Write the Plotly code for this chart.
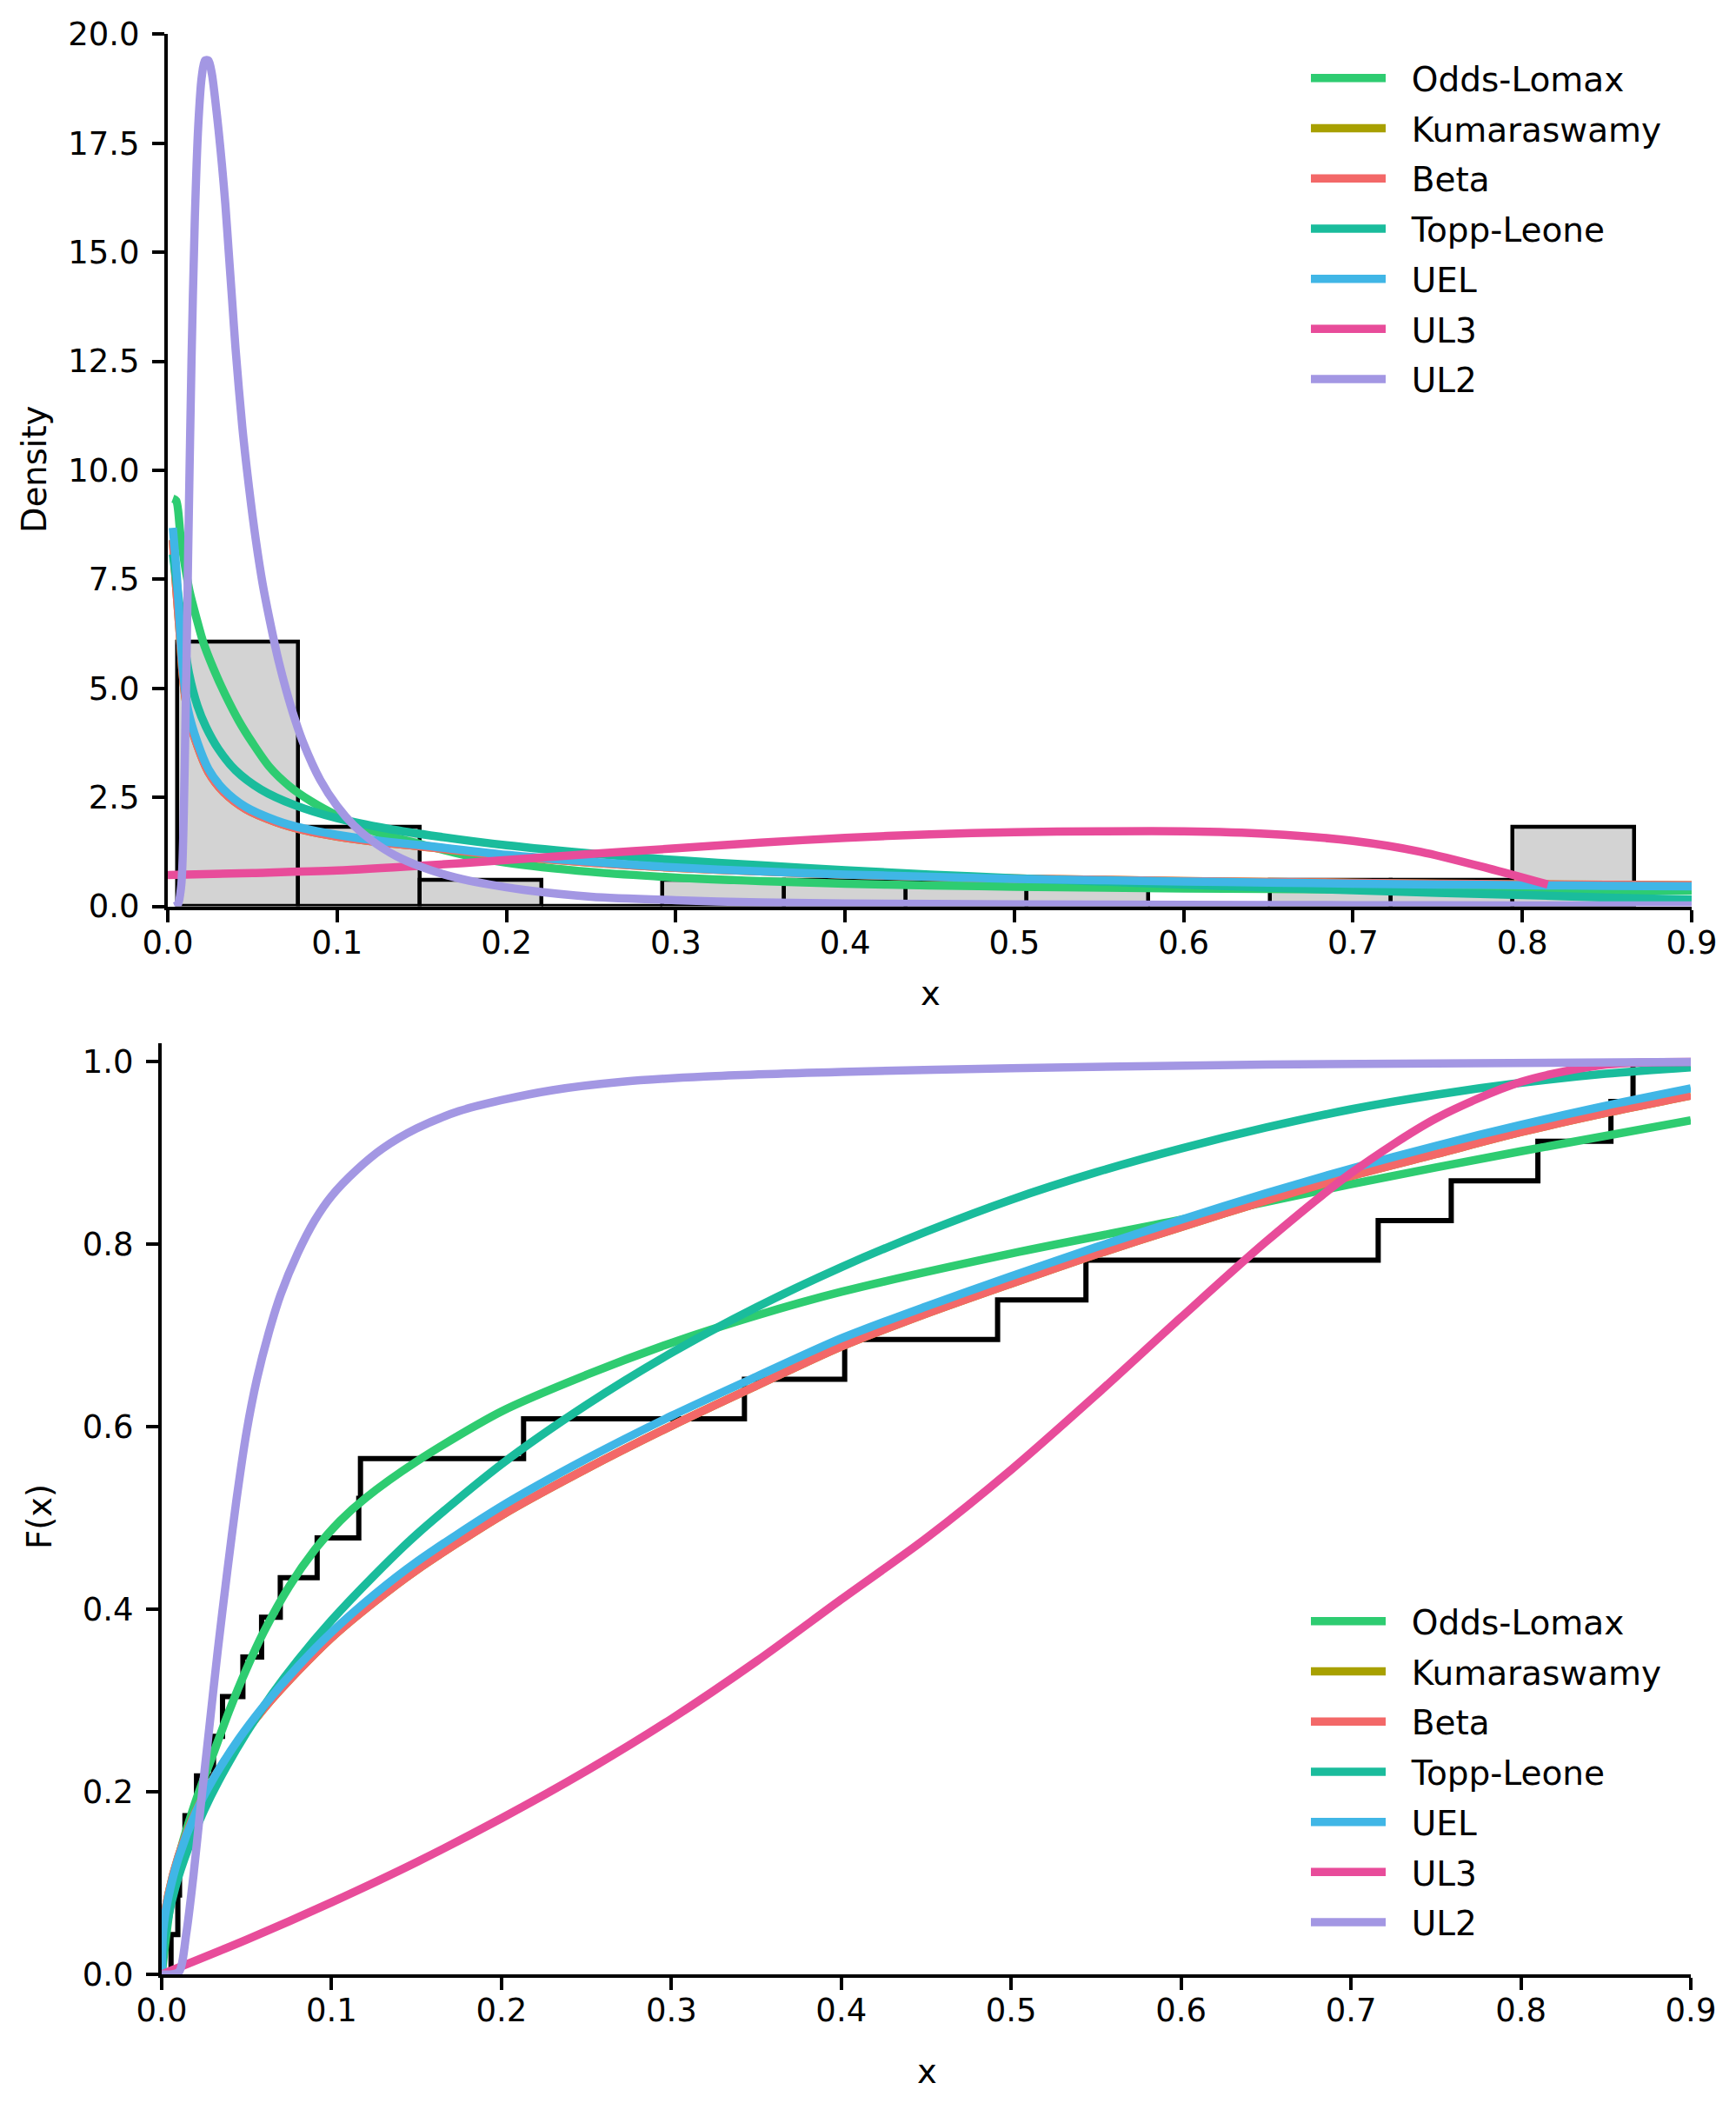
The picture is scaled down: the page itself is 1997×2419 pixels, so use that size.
import numpy as np
import plotly.graph_objects as go

# ---------------- data ----------------
names = ["Odds-Lomax", "Kumaraswamy", "Beta", "Topp-Leone", "UEL", "UL3", "UL2"]
colors = ["#2ecc71", "#a8a000", "#f36868", "#1abc9c", "#40b6e6", "#e84c9a", "#a397e3"]

obs = [0.0055, 0.0095, 0.0105, 0.0137, 0.0205, 0.0305, 0.0358, 0.0478, 0.0588, 0.0698,
       0.0915, 0.116, 0.117, 0.213, 0.343, 0.402, 0.492, 0.544, 0.716, 0.759,
       0.810, 0.853, 0.866]
n_bins = 12

# PDFs (top panel)
pdf_x_odds = [0.003, 0.005, 0.0075, 0.010, 0.013, 0.017, 0.021, 0.027, 0.034, 0.042, 0.05, 0.06,
              0.072, 0.085, 0.1, 0.115, 0.13, 0.15, 0.175, 0.2, 0.25, 0.3, 0.35, 0.4, 0.45,
              0.5, 0.6, 0.7, 0.8, 0.9]
pdf_odds = [9.35, 9.3, 8.5, 7.85, 7.2, 6.6, 6.05, 5.45, 4.85, 4.25, 3.75, 3.2,
            2.75, 2.4, 2.08, 1.82, 1.62, 1.42, 1.18, 1.0, 0.79, 0.66, 0.58, 0.52, 0.48,
            0.45, 0.41, 0.385, 0.37, 0.36]

pdf_x_beta = [0.003, 0.005, 0.0072, 0.009, 0.012, 0.0175, 0.024, 0.033, 0.046, 0.064, 0.081,
              0.1, 0.125, 0.15, 0.2, 0.25, 0.3, 0.35, 0.4, 0.45, 0.5, 0.55, 0.6, 0.65, 0.7,
              0.75, 0.8, 0.85, 0.9]
pdf_beta = [8.4, 7.3, 6.2, 5.25, 4.4, 3.68, 3.08, 2.62, 2.23, 1.93, 1.74,
            1.6, 1.47, 1.37, 1.16, 1.0, 0.88, 0.8, 0.73, 0.68, 0.64, 0.61, 0.58, 0.56, 0.54,
            0.52, 0.505, 0.495, 0.485]

pdf_x_kuma = pdf_x_beta
pdf_kuma = pdf_beta

pdf_x_tl = [0.003, 0.006, 0.009, 0.0125, 0.0175, 0.0225, 0.03, 0.04, 0.055, 0.075, 0.1, 0.13,
            0.16, 0.2, 0.25, 0.3, 0.35, 0.4, 0.45, 0.5, 0.55, 0.6, 0.65, 0.7, 0.75, 0.8,
            0.85, 0.9]
pdf_tl = [8.07, 7.2, 6.25, 5.35, 4.6, 4.12, 3.6, 3.12, 2.68, 2.32, 2.02, 1.78,
          1.6, 1.4, 1.21, 1.06, 0.94, 0.83, 0.73, 0.645, 0.57, 0.5, 0.43, 0.37, 0.31, 0.26,
          0.2, 0.155]

pdf_x_uel = [0.003, 0.0055, 0.0072, 0.009, 0.012, 0.0175, 0.024, 0.033, 0.046, 0.064, 0.081,
             0.1, 0.125, 0.15, 0.2, 0.25, 0.3, 0.35, 0.4, 0.45, 0.5, 0.55, 0.6, 0.65, 0.7,
             0.75, 0.8, 0.85, 0.9]
pdf_uel = [8.68, 7.5, 6.4, 5.4, 4.5, 3.76, 3.15, 2.68, 2.28, 1.97, 1.78,
           1.64, 1.5, 1.4, 1.18, 1.02, 0.89, 0.8, 0.73, 0.68, 0.63, 0.6, 0.57, 0.545, 0.52,
           0.5, 0.485, 0.47, 0.46]

pdf_x_ul3 = [0.0, 0.05, 0.1, 0.15, 0.2, 0.25, 0.3, 0.35, 0.4, 0.45, 0.5, 0.55, 0.6, 0.65,
             0.7, 0.74, 0.78, 0.815]
pdf_ul3 = [0.72, 0.765, 0.82, 0.93, 1.06, 1.2, 1.33, 1.46, 1.57, 1.65, 1.70, 1.72, 1.72, 1.66,
           1.5, 1.25, 0.87, 0.5]

pdf_x_ul2 = [0.004, 0.006, 0.008, 0.010, 0.012, 0.014, 0.016, 0.018, 0.020, 0.022, 0.024,
             0.026, 0.028, 0.030, 0.032, 0.034, 0.036, 0.038, 0.040, 0.044, 0.048, 0.052,
             0.056, 0.060, 0.065, 0.070, 0.075, 0.080, 0.090, 0.100, 0.110, 0.120, 0.135,
             0.150, 0.170, 0.190, 0.210, 0.250, 0.300, 0.350, 0.400, 0.500, 0.600, 0.700,
             0.800, 0.900]
pdf_ul2 = [0.0, 0.05, 0.5, 3.2, 8.0, 12.5, 15.8, 17.9, 19.0, 19.4, 19.4,
           19.1, 18.5, 17.8, 17.0, 16.1, 15.0, 13.9, 12.8, 11.0, 9.6, 8.4,
           7.4, 6.6, 5.7, 4.95, 4.3, 3.75, 2.9, 2.3, 1.85, 1.52, 1.15,
           0.9, 0.66, 0.5, 0.38, 0.22, 0.14, 0.09, 0.067, 0.046, 0.034, 0.027,
           0.022, 0.02]

# CDFs (bottom panel)
cdf_x_odds = [0, 0.005, 0.011, 0.021, 0.03, 0.04, 0.05, 0.06, 0.075, 0.09, 0.105, 0.12, 0.15,
              0.2, 0.25, 0.3, 0.35, 0.4, 0.5, 0.6, 0.7, 0.8, 0.9]
cdf_odds = [0, 0.075, 0.135, 0.195, 0.24, 0.29, 0.335, 0.375, 0.425, 0.465, 0.497, 0.522, 0.562,
            0.617, 0.657, 0.692, 0.722, 0.748, 0.79, 0.827, 0.866, 0.902, 0.936]

cdf_x_beta = [0, 0.001, 0.004, 0.01, 0.02, 0.03, 0.045, 0.06, 0.08, 0.1, 0.125, 0.15, 0.2,
              0.25, 0.3, 0.35, 0.4, 0.45, 0.5, 0.55, 0.6, 0.65, 0.7, 0.75, 0.8, 0.85, 0.9]
cdf_beta = [0, 0.053, 0.088, 0.13, 0.178, 0.213, 0.255, 0.291, 0.332, 0.369, 0.408, 0.443, 0.503,
            0.554, 0.601, 0.645, 0.688, 0.724, 0.757, 0.789, 0.819, 0.848, 0.875, 0.899, 0.923,
            0.944, 0.963]

cdf_x_kuma = cdf_x_beta
cdf_kuma = cdf_beta

cdf_x_tl = [0, 0.002, 0.008, 0.016, 0.025, 0.035, 0.05, 0.065, 0.08, 0.1, 0.125, 0.15, 0.2,
            0.25, 0.3, 0.35, 0.4, 0.45, 0.5, 0.55, 0.6, 0.65, 0.7, 0.75, 0.8, 0.85, 0.9]
cdf_tl = [0, 0.043, 0.095, 0.14, 0.18, 0.217, 0.265, 0.307, 0.344, 0.388, 0.437, 0.482, 0.559,
          0.624, 0.681, 0.731, 0.775, 0.814, 0.849, 0.879, 0.905, 0.928, 0.948, 0.964, 0.977,
          0.987, 0.994]

cdf_x_uel = cdf_x_beta
cdf_uel = [0, 0.05, 0.085, 0.128, 0.177, 0.213, 0.257, 0.294, 0.337, 0.375, 0.416, 0.452, 0.513,
           0.565, 0.612, 0.655, 0.697, 0.732, 0.765, 0.797, 0.827, 0.856, 0.883, 0.908, 0.931,
           0.952, 0.971]

cdf_x_ul3 = [0, 0.05, 0.1, 0.15, 0.2, 0.25, 0.3, 0.35, 0.4, 0.45, 0.5, 0.55, 0.6, 0.65, 0.7,
             0.75, 0.8, 0.85, 0.9]
cdf_ul3 = [0, 0.038, 0.079, 0.123, 0.171, 0.223, 0.28, 0.343, 0.411, 0.478, 0.553, 0.635, 0.72,
           0.803, 0.878, 0.938, 0.978, 0.997, 1.0]

cdf_x_ul2 = [0, 0.006, 0.0103, 0.0145, 0.0188, 0.023, 0.028, 0.033, 0.0385, 0.044, 0.05, 0.056,
             0.063, 0.07, 0.08, 0.09, 0.1, 0.115, 0.13, 0.15, 0.175, 0.2, 0.23, 0.27, 0.32,
             0.4, 0.5, 0.65, 0.9]
cdf_ul2 = [0, 0.0, 0.003, 0.045, 0.11, 0.185, 0.27, 0.355, 0.44, 0.52, 0.595, 0.652,
           0.703, 0.745, 0.79, 0.826, 0.853, 0.882, 0.905, 0.927, 0.946, 0.958, 0.969, 0.978,
           0.984, 0.989, 0.993, 0.997, 1.0]

pdf_series = [(pdf_x_odds, pdf_odds), (pdf_x_kuma, pdf_kuma), (pdf_x_beta, pdf_beta),
              (pdf_x_tl, pdf_tl), (pdf_x_uel, pdf_uel), (pdf_x_ul3, pdf_ul3), (pdf_x_ul2, pdf_ul2)]
cdf_series = [(cdf_x_odds, cdf_odds), (cdf_x_kuma, cdf_kuma), (cdf_x_beta, cdf_beta),
              (cdf_x_tl, cdf_tl), (cdf_x_uel, cdf_uel), (cdf_x_ul3, cdf_ul3), (cdf_x_ul2, cdf_ul2)]

# ---------------- figure ----------------
W, H = 1997, 2419
FONT = "DejaVu Sans"
FS = 37
FS_LAB = 38.5
FS_LEG = 39
LW = 9.5
PAD = "\u00a0\u00a0"

fig = go.Figure()

# histogram (density)
n = len(obs)
counts, edges = np.histogram(obs, bins=n_bins)
dens = counts / (n * np.diff(edges))
centers = (edges[:-1] + edges[1:]) / 2
fig.add_trace(go.Bar(x=centers, y=dens, width=np.diff(edges),
                     marker=dict(color="#d3d3d3", line=dict(color="black", width=4.5)),
                     showlegend=False, xaxis="x", yaxis="y"))

for i, (nm, col, (xs, ys)) in enumerate(zip(names, colors, pdf_series)):
    fig.add_trace(go.Scatter(x=xs, y=ys, mode="lines", name=PAD + nm, legendgroup="p%d" % i,
                             line=dict(color=col, width=LW, shape="spline", smoothing=0.8),
                             legend="legend", xaxis="x", yaxis="y"))

# empirical CDF
xs_e = [0.0] + sorted(obs)
ys_e = [0.0] + [(i + 1) / n for i in range(n)]
fig.add_trace(go.Scatter(x=xs_e, y=ys_e, mode="lines", line=dict(color="black", width=6, shape="hv"),
                         showlegend=False, xaxis="x2", yaxis="y2"))

for i, (nm, col, (xs, ys)) in enumerate(zip(names, colors, cdf_series)):
    fig.add_trace(go.Scatter(x=xs, y=ys, mode="lines", name=PAD + nm, legendgroup="c%d" % i,
                             line=dict(color=col, width=LW, shape="spline", smoothing=0.8),
                             legend="legend2", xaxis="x2", yaxis="y2"))

def px_x(p):
    return p / W

def px_y(p):
    return 1 - p / H

axis_common = dict(showline=True, linecolor="black", linewidth=4, ticks="outside",
                   ticklen=14, tickwidth=4, tickcolor="black", showgrid=False,
                   zeroline=False, mirror=False, automargin=False,
                   tickfont=dict(family=FONT, size=FS, color="black"))

leg_common = dict(xanchor="left", yanchor="top", bgcolor="rgba(0,0,0,0)",
                  traceorder="grouped", tracegroupgap=4, itemwidth=86,
                  font=dict(family=FONT, size=FS_LEG, color="black"))

def lab(text, x, y, angle=0):
    return dict(text=text, x=px_x(x), y=px_y(y), xref="paper", yref="paper",
                xanchor="center", yanchor="middle", showarrow=False, textangle=angle,
                font=dict(family=FONT, size=FS_LAB, color="black"))

fig.update_layout(
    width=W, height=H, margin=dict(l=0, r=0, t=0, b=0, autoexpand=False),
    paper_bgcolor="white", plot_bgcolor="white",
    font=dict(family=FONT, size=FS, color="black"),
    bargap=0,
    xaxis=dict(domain=[px_x(193), px_x(1946)], range=[0, 0.9], anchor="y",
               tickvals=[i / 10 for i in range(10)], tickformat=".1f",
               ticklabelstandoff=-8, **axis_common),
    yaxis=dict(domain=[px_y(1042.5), px_y(39.3)], range=[0, 20], anchor="x",
               tickvals=[2.5 * i for i in range(9)], tickformat=".1f",
               ticklabelstandoff=7, **axis_common),
    xaxis2=dict(domain=[px_x(186), px_x(1945)], range=[0, 0.9], anchor="y2",
                tickvals=[i / 10 for i in range(10)], tickformat=".1f",
                ticklabelstandoff=-8, **axis_common),
    yaxis2=dict(domain=[px_y(2271), px_y(1200)], range=[0, 1.0204], anchor="x2",
                tickvals=[0.2 * i for i in range(6)], tickformat=".1f",
                ticklabelstandoff=7, **axis_common),
    legend=dict(x=px_x(1503), y=px_y(58), **leg_common),
    legend2=dict(x=px_x(1503), y=px_y(1833), **leg_common),
    annotations=[
        lab("Density", 39, 540, -90),
        lab("x", 1070, 1142),
        lab("F(x)", 45, 1745, -90),
        lab("x", 1066, 2382),
    ],
)

fig.write_html("out.html")
